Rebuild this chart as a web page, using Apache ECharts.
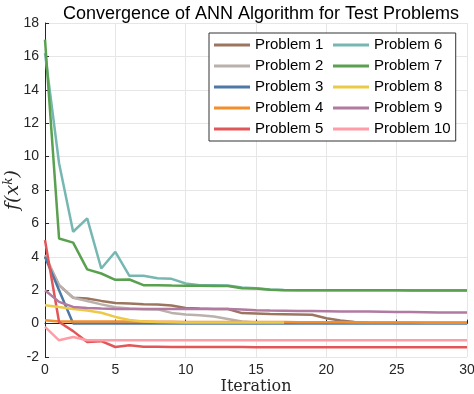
<!DOCTYPE html>
<html lang="en">
<head>
    <meta charset="UTF-8">
    <title>Convergence of ANN Algorithm</title>
    <style>
        html, body { margin: 0; padding: 0; background: #fff; }
        #main { width: 474px; height: 394px; }
    </style>
    <script src="https://cdn.jsdelivr.net/npm/echarts@6/dist/echarts.min.js"></script>
</head>
<body>
<div id="main"></div>
<script>
    // values, one per iteration (0, 1, 2, ...)
    var p1 = [4.0, 2.3, 1.55, 1.5, 1.36, 1.24, 1.2, 1.16, 1.14, 1.08, 0.94, 0.9, 0.88, 0.87, 0.63, 0.6, 0.57, 0.56, 0.55, 0.53, 0.32, 0.18, 0.1, 0.06, 0.05, 0.05, 0.05, 0.05, 0.05, 0.05, 0.05];
    var p2 = [4.1, 2.3, 1.55, 1.35, 1.15, 0.98, 0.9, 0.86, 0.85, 0.64, 0.54, 0.5, 0.42, 0.28, 0.12, 0.06, 0.05, 0.05, 0.05, 0.05, 0.05, 0.05, 0.05, 0.05, 0.05, 0.05, 0.05, 0.05, 0.05, 0.05, 0.05];
    var p3 = [4.0, 2.0, 0, 0, 0, 0, 0, 0, 0, 0, 0, 0, 0, 0, 0, 0, 0, 0, 0, 0, 0, 0, 0, 0, 0, 0, 0, 0, 0, 0, 0];
    var p4 = [0.2, 0.12, 0.12, 0.12, 0.12, 0.12, 0.12, 0.12, 0.11, 0.11, 0.1, 0.1, 0.1, 0.1, 0.1, 0.1, 0.1, 0.1, 0.08, 0.08, 0.08, 0.08, 0.06, 0.06, 0.06, 0.06, 0.06, 0.05, 0.05, 0.05, 0.05];
    var p5 = [5.0, 0.1, -0.45, -1.1, -1.05, -1.4, -1.3, -1.38, -1.38, -1.4, -1.4, -1.4, -1.4, -1.4, -1.4, -1.42, -1.42, -1.42, -1.42, -1.42, -1.42, -1.42, -1.42, -1.42, -1.42, -1.42, -1.42, -1.42, -1.42, -1.42, -1.42];
    var p6 = [16.2, 9.6, 5.5, 6.3, 3.3, 4.3, 2.86, 2.86, 2.72, 2.68, 2.4, 2.3, 2.29, 2.28, 2.16, 2.12, 2.04, 2.01, 2.0, 2.0, 2.0, 2.0, 2.0, 2.0, 2.0, 2.0, 2.0, 1.99, 1.99, 1.99, 1.99];
    var p7 = [17.0, 5.1, 4.85, 3.25, 3.0, 2.62, 2.64, 2.3, 2.3, 2.28, 2.27, 2.26, 2.25, 2.25, 2.12, 2.1, 2.02, 2.0, 2.0, 2.0, 2.0, 2.0, 2.0, 1.99, 1.99, 1.99, 1.98, 1.98, 1.98, 1.98, 1.98];
    var p8 = [1.1, 1.0, 0.88, 0.78, 0.65, 0.4, 0.22, 0.13, 0.09, 0.08, 0.07, 0.07, 0.06, 0.06, 0.06, 0.06, 0.06, 0.06];
    var p9 = [2.0, 1.3, 1.0, 0.94, 0.9, 0.88, 0.88, 0.88, 0.88, 0.88, 0.88, 0.88, 0.88, 0.88, 0.84, 0.8, 0.78, 0.77, 0.76, 0.75, 0.74, 0.73, 0.72, 0.72, 0.71, 0.7, 0.69, 0.68, 0.67, 0.66, 0.66];
    var p10 = [-0.2, -1.0, -0.8, -1.0, -1.0, -1.0, -1.0, -1.0, -1.0, -1.0, -1.0, -1.0, -1.0, -1.0, -1.0, -1.0, -1.0, -1.0, -1.0, -1.0, -1.0, -1.0, -1.0, -1.0, -1.0, -1.0, -1.0, -1.0, -1.0, -1.0, -1.0];

    var names = ['Problem 1', 'Problem 2', 'Problem 3', 'Problem 4', 'Problem 5',
                 'Problem 6', 'Problem 7', 'Problem 8', 'Problem 9', 'Problem 10'];
    var values = [p1, p2, p3, p4, p5, p6, p7, p8, p9, p10];
    var colors = ['#9c755f', '#bab0ac', '#4e79a7', '#f28e2b', '#e15759',
                  '#76b7b2', '#59a14f', '#edc948', '#b07aa1', '#ff9da7'];

    var xTicks = [0, 5, 10, 15, 20, 25, 30];
    var yTicks = [-2, 0, 2, 4, 6, 8, 10, 12, 14, 16, 18];

    var myChart = echarts.init(document.getElementById('main'));

    var series = names.map(function (n, k) {
        return {
            name: n,
            type: 'line',
            showSymbol: false,
            symbol: 'none',
            lineStyle: { width: 2.5, color: colors[k] },
            itemStyle: { color: colors[k] },
            data: values[k].map(function (v, i) { return [i, v]; })
        };
    });

    var axisFont = { fontFamily: 'Liberation Sans', fontSize: 14, color: '#262626' };

    var option = {
        animation: false,
        backgroundColor: '#fff',
        title: {
            text: 'Convergence of ANN Algorithm for Test Problems',
            left: 256,
            textAlign: 'center',
            top: 0,
            textStyle: { fontFamily: 'Liberation Sans', fontSize: 18, fontWeight: 'normal', color: '#000' }
        },
        legend: {
            orient: 'vertical',
            left: 209,
            top: 33,
            height: 100,
            padding: [4, 5, 4, 5],
            itemGap: 5,
            itemWidth: 36,
            itemHeight: 3,
            icon: 'rect',
            backgroundColor: '#fff',
            borderColor: '#333',
            borderWidth: 1,
            borderRadius: 0,
            data: names,
            textStyle: { fontFamily: 'Liberation Sans', fontSize: 15, color: '#000', lineHeight: 16, width: 73 }
        },
        grid: { left: 45, right: 7, top: 23, bottom: 37, outerBoundsMode: 'none', containLabel: false },
        xAxis: {
            type: 'value',
            min: xTicks[0],
            max: xTicks[xTicks.length - 1],
            interval: 5,
            name: 'Iteration',
            nameLocation: 'middle',
            nameGap: 22,
            nameMoveOverlap: false,
            nameTextStyle: { fontFamily: 'DejaVu Serif', fontSize: 16, color: '#262626' },
            axisLine: { show: true, lineStyle: { color: '#262626', width: 1 } },
            axisTick: { show: true, inside: true, length: 4, lineStyle: { color: '#262626' } },
            axisLabel: Object.assign({ margin: 6 }, axisFont),
            splitLine: { show: true, lineStyle: { color: '#e6e6e6', width: 1 } }
        },
        yAxis: {
            type: 'value',
            min: yTicks[0],
            max: yTicks[yTicks.length - 1],
            interval: 2,
            name: '{f|f(x}{s|k}{f|)}',
            nameLocation: 'middle',
            nameRotate: 90,
            nameGap: 21,
            nameMoveOverlap: false,
            nameTextStyle: {
                rich: {
                    f: { fontFamily: 'DejaVu Serif', fontStyle: 'italic', fontSize: 19, color: '#262626' },
                    s: { fontFamily: 'DejaVu Serif', fontStyle: 'italic', fontSize: 12, color: '#262626', verticalAlign: 'top', padding: [0, 0, 9, 0] }
                }
            },
            axisLine: { show: true, lineStyle: { color: '#262626', width: 1 } },
            axisTick: { show: true, inside: true, length: 4, lineStyle: { color: '#262626' } },
            axisLabel: Object.assign({ margin: 6 }, axisFont),
            splitLine: { show: true, lineStyle: { color: '#e6e6e6', width: 1 } }
        },
        series: series
    };

    option && myChart.setOption(option);
</script>
</body>
</html>
